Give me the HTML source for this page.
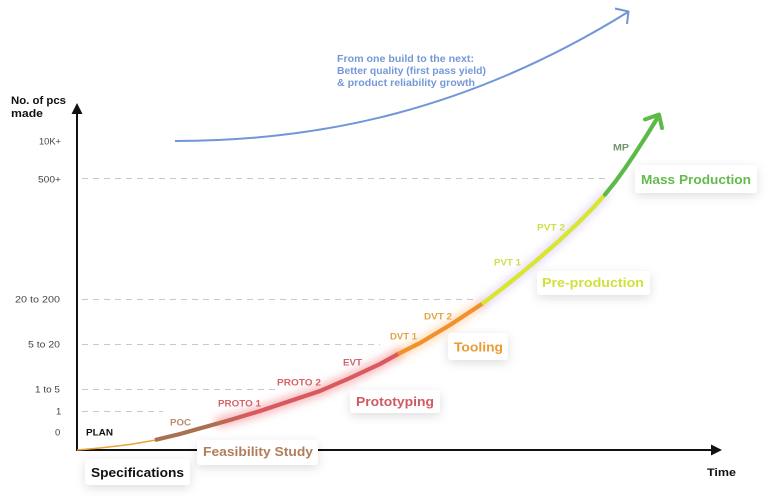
<!DOCTYPE html>
<html><head><meta charset="utf-8"><style>
html,body{margin:0;padding:0;background:#fff;}
svg{display:block;}
text{font-family:"Liberation Sans",Arial,sans-serif;}
</style></head><body>
<svg width="768" height="500" viewBox="0 0 768 500" xmlns="http://www.w3.org/2000/svg">
<defs>
<filter id="sh" x="-30%" y="-50%" width="160%" height="220%">
<feDropShadow dx="0" dy="3" stdDeviation="5" flood-color="#000" flood-opacity="0.13"/>
</filter>
<filter id="glow" x="-20%" y="-20%" width="140%" height="140%">
<feGaussianBlur stdDeviation="4"/>
</filter>
<linearGradient id="br" gradientUnits="userSpaceOnUse" x1="212" y1="0" x2="250" y2="0">
<stop offset="0" stop-color="#a9714f"/><stop offset="1" stop-color="#d95a5e"/>
</linearGradient>
</defs>
<rect width="768" height="500" fill="#fff"/>

<!-- gridlines -->
<g stroke="#c8c8c8" stroke-width="1" stroke-dasharray="6 5">
<line x1="82" y1="178.5" x2="605" y2="178.5"/>
<line x1="82" y1="299.5" x2="474" y2="299.5"/>
<line x1="82" y1="344.5" x2="380" y2="344.5"/>
<line x1="82" y1="389.5" x2="275" y2="389.5"/>
<line x1="82" y1="411.5" x2="163" y2="411.5"/>
</g>

<!-- axes -->
<line x1="77" y1="450" x2="77" y2="110" stroke="#111" stroke-width="2"/>
<polygon points="77,103 71.5,114 82.5,114" fill="#111"/>
<line x1="76" y1="450" x2="712" y2="450" stroke="#111" stroke-width="2"/>
<polygon points="722,450 711,444.5 711,455.5" fill="#111"/>

<!-- axis labels -->
<text x="11" y="104" font-size="11" font-weight="bold" fill="#111" textLength="55" lengthAdjust="spacingAndGlyphs">No. of pcs</text>
<text x="11" y="117" font-size="11" font-weight="bold" fill="#111" textLength="32" lengthAdjust="spacingAndGlyphs">made</text>
<text x="707" y="476" font-size="11" font-weight="bold" fill="#111" textLength="29" lengthAdjust="spacingAndGlyphs">Time</text>

<!-- tick labels -->
<g font-size="9.5" fill="#444">
<text x="39" y="144.5" textLength="22" lengthAdjust="spacingAndGlyphs">10K+</text>
<text x="38" y="182.5" textLength="23" lengthAdjust="spacingAndGlyphs">500+</text>
<text x="15" y="302.5" textLength="45" lengthAdjust="spacingAndGlyphs">20 to 200</text>
<text x="28" y="347.5" textLength="32" lengthAdjust="spacingAndGlyphs">5 to 20</text>
<text x="35" y="392.5" textLength="25" lengthAdjust="spacingAndGlyphs">1 to 5</text>
<text x="56" y="414.5">1</text>
<text x="55" y="435.5">0</text>
</g>

<!-- blue arrow -->
<path d="M175,141 C320,141 470,110 628,12" fill="none" stroke="#7096d8" stroke-width="2"/>
<path d="M615,8.5 L628.5,11.5 L627,24" fill="none" stroke="#7096d8" stroke-width="2" stroke-linejoin="round"/>
<g font-size="9.8" font-weight="bold" fill="#7498d8">
<text x="337" y="62" textLength="137" lengthAdjust="spacingAndGlyphs">From one build to the next:</text>
<text x="337" y="74" textLength="149" lengthAdjust="spacingAndGlyphs">Better quality (first pass yield)</text>
<text x="337" y="86" textLength="138" lengthAdjust="spacingAndGlyphs">&amp; product reliability growth</text>
</g>

<!-- glows -->
<g fill="none" stroke-linecap="round" stroke-linejoin="round" filter="url(#glow)">
<polyline points="220,422 240,417 260,411 290,401 320,391 350,378 380,364 398,354" stroke="#f06a74" stroke-width="11" opacity="0.45"/>
<polyline points="398,354 420,343 450,325 482,304" stroke="#ffa040" stroke-width="10" opacity="0.35"/>
<polyline points="482,304 500,290.3 520,274.3 540,257.5 560,239.9 580,221.1 595,205.8 605,194.6" stroke="#b9a0f0" stroke-width="10" opacity="0.35"/>
</g>

<!-- main curve -->
<g fill="none" stroke-linejoin="round" stroke-linecap="butt">
<polyline points="77,450 100,448 130,444.5 156,440" stroke="#eaa23a" stroke-width="1.6"/>
<polyline points="155,440 180,434 205,427 230,420 260,411 290,401 320,391 350,378 380,364 399,353.5" stroke="url(#br)" stroke-width="4.2"/>
<polyline points="398,354 420,343 450,325 483,303.3" stroke="#f0912c" stroke-width="4.2"/>
<polyline points="482,304 500,290.3 520,274.3 540,257.5 560,239.9 580,221.1 595,205.8 605.5,194" stroke="#d8e62c" stroke-width="4.2"/>
<polyline points="605,194.6 615,182.1 625,168.3 635,153.5 647,134.9 658,117" stroke="#5cba47" stroke-width="4.2" stroke-linecap="round"/>
<path d="M645,119.5 L659,114.5 L662,128" stroke="#5cba47" stroke-width="4" stroke-linecap="round"/>
</g>

<!-- small labels -->
<g font-size="9" font-weight="bold">
<text x="86" y="435.5" fill="#111" textLength="27" lengthAdjust="spacingAndGlyphs">PLAN</text>
<text x="170" y="425.5" fill="#b98c6c" textLength="21" lengthAdjust="spacingAndGlyphs">POC</text>
<text x="218" y="406.5" fill="#d4646c" textLength="43" lengthAdjust="spacingAndGlyphs">PROTO 1</text>
<text x="277" y="385.5" fill="#d4646c" textLength="44" lengthAdjust="spacingAndGlyphs">PROTO 2</text>
<text x="343" y="365.5" fill="#d4646c" textLength="19" lengthAdjust="spacingAndGlyphs">EVT</text>
<text x="390" y="339.5" fill="#e3a445" textLength="27" lengthAdjust="spacingAndGlyphs">DVT 1</text>
<text x="424" y="319.5" fill="#e3a445" textLength="28" lengthAdjust="spacingAndGlyphs">DVT 2</text>
<text x="494" y="265.5" fill="#d2de48" textLength="27" lengthAdjust="spacingAndGlyphs">PVT 1</text>
<text x="537" y="230.5" fill="#d2de48" textLength="28" lengthAdjust="spacingAndGlyphs">PVT 2</text>
<text x="613" y="150.5" fill="#6f946f" textLength="16" lengthAdjust="spacingAndGlyphs">MP</text>
</g>

<!-- phase boxes -->
<g filter="url(#sh)" fill="#fff">
<rect x="85" y="459" width="105" height="26" rx="3"/>
<rect x="197" y="440" width="121" height="25" rx="3"/>
<rect x="350" y="390" width="90" height="23" rx="3"/>
<rect x="448" y="333" width="60" height="27" rx="3"/>
<rect x="537" y="271" width="113" height="24" rx="3"/>
<rect x="635" y="165" width="122" height="28" rx="3"/>
</g>
<g font-size="13" font-weight="bold">
<text x="91" y="477" fill="#111" textLength="93" lengthAdjust="spacingAndGlyphs">Specifications</text>
<text x="203" y="456" fill="#b17e5c" textLength="110" lengthAdjust="spacingAndGlyphs">Feasibility Study</text>
<text x="356" y="406" fill="#cf5a63" textLength="78" lengthAdjust="spacingAndGlyphs">Prototyping</text>
<text x="454" y="351.5" fill="#ec9a34" textLength="49" lengthAdjust="spacingAndGlyphs">Tooling</text>
<text x="542" y="287" fill="#d3e03c" textLength="102" lengthAdjust="spacingAndGlyphs">Pre-production</text>
<text x="641" y="184" fill="#62bb4c" textLength="110" lengthAdjust="spacingAndGlyphs">Mass Production</text>
</g>
</svg>
</body></html>
